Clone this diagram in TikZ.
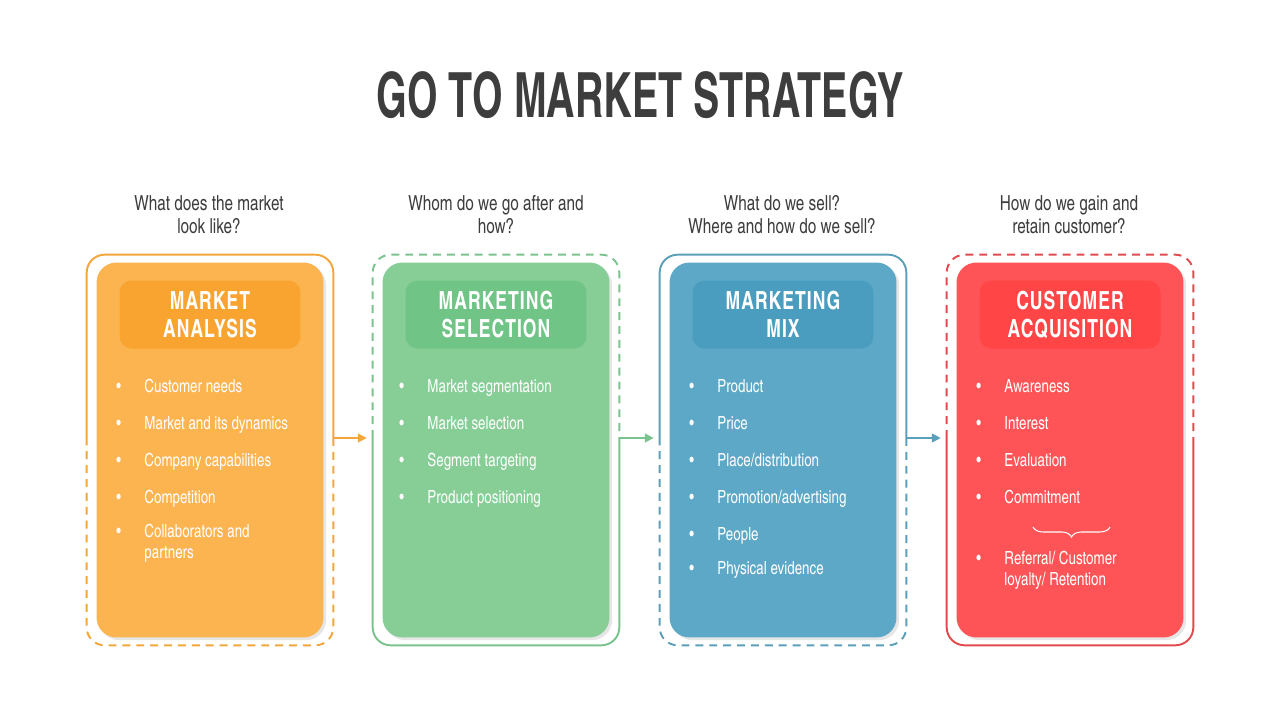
\documentclass[tikz,border=0pt]{standalone}
\usepackage{fontspec}
\setmainfont{texgyreheroscn-regular.otf}[BoldFont=texgyreheroscn-bold.otf, FakeStretch=0.9]
\newfontfamily\titlefont{texgyreheroscn-bold.otf}[FakeStretch=0.77]
\newfontfamily\headfont{texgyreheroscn-bold.otf}[FakeStretch=0.86, LetterSpace=4]
\usetikzlibrary{arrows.meta, positioning, shadows, decorations.pathreplacing}

\definecolor{ink}{HTML}{3D3D3D}
\definecolor{orangecard}{HTML}{FBB450}
\definecolor{orangehead}{HTML}{F9A430}
\definecolor{orangefr}{HTML}{F3A63C}
\definecolor{greencard}{HTML}{86CD96}
\definecolor{greenhead}{HTML}{70C486}
\definecolor{greenfr}{HTML}{7BC38E}
\definecolor{bluecard}{HTML}{5DA8C6}
\definecolor{bluehead}{HTML}{4B9DC0}
\definecolor{bluefr}{HTML}{5B9FBA}
\definecolor{redcard}{HTML}{FF5457}
\definecolor{redhead}{HTML}{FF4545}
\definecolor{redfr}{HTML}{E14B4F}

\tikzset{
	title/.style={text=ink, font=\titlefont\fontsize{35.5}{40}\selectfont},
	ask/.style={text=ink, align=center, font=\fontsize{11.8}{13}\selectfont},
	frame/.style={minimum width=4.92cm, minimum height=7.8cm, inner sep=0pt},
	card/.style={rounded corners=0.4cm, minimum width=4.54cm, minimum height=7.5cm, inner sep=0pt,
		drop shadow={shadow xshift=1.5pt, shadow yshift=-1.5pt, opacity=0.2}},
	head/.style={rounded corners=0.24cm, minimum width=3.62cm, minimum height=1.36cm, inner sep=0pt,
		text=white, align=center, font=\headfont\fontsize{14.2}{15.9}\selectfont},
	items/.style={anchor=base west, inner sep=0pt, text=white, font=\fontsize{10.3}{12}\selectfont},
	edge/.style={line width=1.1pt, rounded corners=0.36cm},
	edgedash/.style={edge, dash pattern=on 4.5pt off 3.4pt},
	link/.style={line width=1.1pt, -{Triangle[length=5pt, width=5pt]}, shorten >=0.12cm},
	brace/.style={white, line width=0.6pt, decorate, decoration={brace, amplitude=0.2cm}}
}

\begin{document}
\begin{tikzpicture}[x=0.02cm, y=0.02cm]
	\useasboundingbox (0, 0) rectangle (1280, 720);

	\node[title] (title) at (640, 625) {GO TO MARKET STRATEGY};

	\node[ask] (q1) at (209, 505) {What does the market\\look like?};
	\node[ask] (q2) at (496, 505) {Whom do we go after and\\how?};
	\node[ask] (q3) at (782, 505) {What do we sell?\\Where and how do we sell?};
	\node[ask] (q4) at (1069, 505) {How do we gain and\\retain customer?};

	\node[frame] (f1) at (210, 270) {};
	\node[frame] (f2) at (496, 270) {};
	\node[frame] (f3) at (783, 270) {};
	\node[frame] (f4) at (1070, 270) {};

	\draw[edge, orangefr] ([yshift=0.24cm]f1.west) |- (f1.north) -| ([yshift=0.24cm]f1.east);
	\draw[edgedash, orangefr] ([yshift=0.24cm]f1.east) |- (f1.south) -| ([yshift=0.24cm]f1.west);
	\draw[edgedash, greenfr] ([yshift=0.24cm]f2.west) |- (f2.north) -| ([yshift=0.24cm]f2.east);
	\draw[edge, greenfr] ([yshift=0.24cm]f2.east) |- (f2.south) -| ([yshift=0.24cm]f2.west);
	\draw[edge, bluefr] ([yshift=0.24cm]f3.west) |- (f3.north) -| ([yshift=0.24cm]f3.east);
	\draw[edgedash, bluefr] ([yshift=0.24cm]f3.east) |- (f3.south) -| ([yshift=0.24cm]f3.west);
	\draw[edgedash, redfr] ([yshift=0.24cm]f4.west) |- (f4.north) -| ([yshift=0.24cm]f4.east);
	\draw[edge, redfr] ([yshift=0.24cm]f4.east) |- (f4.south) -| ([yshift=0.24cm]f4.west);

	\node[card, fill=orangecard] (c1) at (210, 270) {};
	\node[card, fill=greencard] (c2) at (496, 270) {};
	\node[card, fill=bluecard] (c3) at (783, 270) {};
	\node[card, fill=redcard] (c4) at (1070, 270) {};

	\node[head, fill=orangehead, below=0.36cm of c1.north] (h1) {MARKET\\ANALYSIS};
	\node[head, fill=greenhead, below=0.36cm of c2.north] (h2) {MARKETING\\SELECTION};
	\node[head, fill=bluehead, below=0.36cm of c3.north] (h3) {MARKETING\\MIX};
	\node[head, fill=redhead, below=0.36cm of c4.north] (h4) {CUSTOMER\\ACQUISITION};

	\draw[link, orangefr] ([yshift=0.24cm]f1.east) -- ([yshift=0.24cm]f2.west);
	\draw[link, greenfr] ([yshift=0.24cm]f2.east) -- ([yshift=0.24cm]f3.west);
	\draw[link, bluefr] ([yshift=0.24cm]f3.east) -- ([yshift=0.24cm]f4.west);

	\node[items] (l1) at (116, 327) {\begin{tabular}[t]{@{}p{16pt}@{}l@{}}
		\textbullet & Customer needs\\[9pt]
		\textbullet & Market and its dynamics\\[9pt]
		\textbullet & Company capabilities\\[9pt]
		\textbullet & Competition\\[7pt]
		\textbullet & Collaborators and\\
		& partners
	\end{tabular}};
	\node[items] (l2) at (399, 327) {\begin{tabular}[t]{@{}p{16pt}@{}l@{}}
		\textbullet & Market segmentation\\[9pt]
		\textbullet & Market selection\\[9pt]
		\textbullet & Segment targeting\\[9pt]
		\textbullet & Product positioning
	\end{tabular}};
	\node[items] (l3) at (689, 327) {\begin{tabular}[t]{@{}p{16pt}@{}l@{}}
		\textbullet & Product\\[9pt]
		\textbullet & Price\\[9pt]
		\textbullet & Place/distribution\\[9pt]
		\textbullet & Promotion/advertising\\[9pt]
		\textbullet & People\\[7.3pt]
		\textbullet & Physical evidence
	\end{tabular}};
	\node[items] (l4) at (976, 327) {\begin{tabular}[t]{@{}p{16pt}@{}l@{}}
		\textbullet & Awareness\\[9pt]
		\textbullet & Interest\\[9pt]
		\textbullet & Evaluation\\[9pt]
		\textbullet & Commitment\\[22.6pt]
		\textbullet & Referral/ Customer\\
		& loyalty/ Retention
	\end{tabular}};

	\draw[brace] (1110, 193) -- (1033, 193);
\end{tikzpicture}
\end{document}
